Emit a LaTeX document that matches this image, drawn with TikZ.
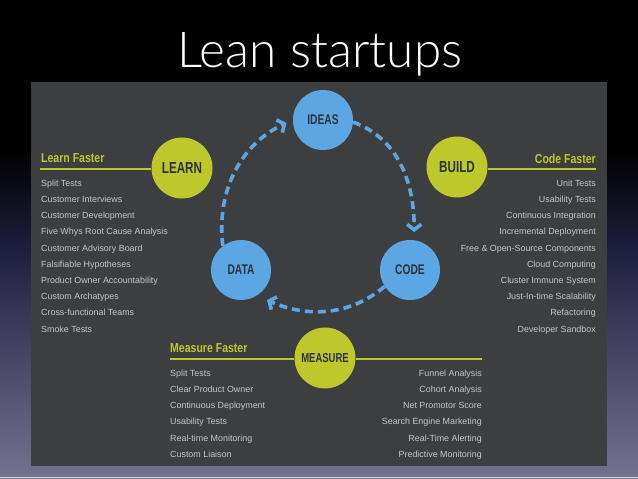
\documentclass[tikz,border=0pt]{standalone}
\usepackage{fontspec}
\setmainfont{Liberation Sans}
\newfontfamily\circfont{Liberation Sans}[FakeStretch=0.73]
\newfontfamily\headfont{Liberation Sans}[FakeStretch=0.81]
\IfFontExistsTF{Lato Light}{\newfontfamily\titlefont{Lato Light}}{\newfontfamily\titlefont{TeX Gyre Heros}}
\usetikzlibrary{arrows.meta}
\definecolor{panel}{RGB}{61,62,64}
\definecolor{lime}{RGB}{190,200,42}
\definecolor{sky}{RGB}{92,166,228}
\definecolor{ink}{RGB}{44,52,58}
\definecolor{itemc}{RGB}{198,198,198}
\definecolor{bgbot}{RGB}{118,115,145}
\definecolor{bgmid}{RGB}{30,30,62}
\definecolor{strip}{RGB}{215,215,222}
\tikzset{
  ideabub/.style={circle, fill=sky, minimum size=60pt, inner sep=0pt, text=ink,
    font=\circfont\bfseries\fontsize{14}{14}\selectfont},
  stagebub/.style={circle, fill=lime, minimum size=61pt, inner sep=0pt, text=ink,
    font=\circfont\bfseries\fontsize{16}{16}\selectfont},
  smallstage/.style={stagebub, font=\circfont\bfseries\fontsize{13}{13}\selectfont},
  itemtxt/.style={text=itemc, font=\fontsize{8.9}{10}\selectfont, inner sep=0pt},
  headtxt/.style={text=lime, font=\headfont\bfseries\fontsize{13}{13}\selectfont, inner sep=0pt},
  rulel/.style={draw=lime, line width=1.6pt},
  flow/.style={draw=sky, line width=3.6pt, dash pattern=on 8pt off 5pt,
    -{Straight Barb[length=5.5pt,width=14pt]}}
}
\begin{document}
\begin{tikzpicture}[x=1pt,y=1pt]
\useasboundingbox (0,0) rectangle (638,479);
% background
\fill[black] (0,330) rectangle (638,479);
\shade[top color=black, bottom color=bgmid] (0,230) rectangle (638,330.5);
\shade[top color=bgmid, bottom color=bgbot] (0,0) rectangle (638,230.5);
\fill[strip] (0,0.6) rectangle (638,2.2);
% panel
\fill[panel] (31,13) rectangle (607,397);
% title
\node[anchor=base west, inner sep=0pt, text=white] (title) at (177,411)
  {\resizebox{285pt}{!}{\titlefont Lean startups}};
% cycle circles
\node[ideabub] (ideas) at (323,359) {IDEAS};
\node[ideabub] (data) at (241,209) {DATA};
\node[ideabub] (code) at (410,209) {CODE};
% stage circles
\node[stagebub] (learn) at (182,311) {LEARN};
\node[stagebub] (build) at (457,312) {BUILD};
% rules
\coordinate (lfend) at (40,310);
\coordinate (cfend) at (596,310);
\coordinate (mfl) at (170,120);
\coordinate (mfr) at (482,120);
\draw[rulel] (lfend) -- (lfend -| learn.west);
\draw[rulel] (build.east |- cfend) -- (cfend);
\node[smallstage] (measure) at (325,121) {MEASURE};
\draw[rulel] (mfl) -- (mfl -| measure.west);
\draw[rulel] (measure.east |- mfr) -- (mfr);
% headers
\node[headtxt, anchor=base west] (lf) at (41,316.3) {Learn Faster};
\node[headtxt, anchor=base east] (cf) at (596,315.5) {Code Faster};
\node[headtxt, anchor=base west] (mf) at (170,126.3) {Measure Faster};
% lists
\foreach \t [count=\i from 0] in {Split Tests, Customer Interviews, Customer Development,
  Five Whys Root Cause Analysis, Customer Advisory Board, Falsifiable Hypotheses,
  Product Owner Accountability, Custom Archatypes, Cross-functional Teams, Smoke Tests}
  \node[itemtxt, anchor=base west] (left\i) at (41,{292.7-16.2*\i}) {\t};
\foreach \t [count=\i from 0] in {Unit Tests, Usability Tests, Continuous Integration,
  Incremental Deployment, Free \& Open-Source Components, Cloud Computing,
  Cluster Immune System, Just-In-time Scalability, Refactoring, Developer Sandbox}
  \node[itemtxt, anchor=base east] (right\i) at (596,{292.7-16.2*\i}) {\t};
\foreach \t [count=\i from 0] in {Split Tests, Clear Product Owner, Continuous Deployment,
  Usability Tests, Real-time Monitoring, Custom Liaison}
  \node[itemtxt, anchor=base west] (bl\i) at (170,{102.7-16.2*\i}) {\t};
\foreach \t [count=\i from 0] in {Funnel Analysis, Cohort Analysis, Net Promotor Score,
  Search Engine Marketing, Real-Time Alerting, Predictive Monitoring}
  \node[itemtxt, anchor=base east] (br\i) at (482,{102.7-16.2*\i}) {\t};
% cycle arrows
\draw[flow, shorten >=7pt] (data.127) to[out=97, in=205] (ideas.180);
\draw[flow, shorten >=8pt] (ideas.-4) to[out=-20, in=90] (code.82);
\draw[flow, shorten >=11pt] (code.213) to[out=220, in=-24] (data.-58);
\end{tikzpicture}
\end{document}
